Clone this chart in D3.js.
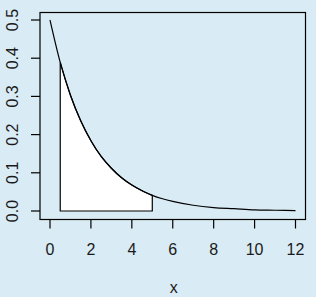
<!DOCTYPE html>
<html>
<head>
<meta charset="utf-8">
<script src="https://cdn.jsdelivr.net/npm/d3@7"></script>
<style>
  body { margin: 0; background: #d9ebf5; }
  svg { display: block; }
</style>
</head>
<body>
<div id="container"></div>
<script>
// values
const xs = [0, 0.5, 1, 1.5, 2, 2.5, 3, 3.5, 4, 4.5, 5, 5.5, 6, 7, 8, 9, 10, 11, 12];
const ys = [0.5, 0.389, 0.303, 0.236, 0.184, 0.143, 0.112, 0.087, 0.068, 0.053, 0.041, 0.032, 0.025, 0.015, 0.009, 0.006, 0.003, 0.002, 0.001];
const xTicks = [0, 2, 4, 6, 8, 10, 12];
const yTicks = [0, 0.1, 0.2, 0.3, 0.4, 0.5];
const shadeFrom = 0.5, shadeTo = 5;

const width = 316, height = 297;
const box = {left: 40, right: 305.5, top: 12.5, bottom: 219.5};

const x = d3.scaleLinear().domain([0, 12]).range([50, 295.5]);
const y = d3.scaleLinear().domain([0, 0.5]).range([211, 20]);

const pts = xs.map((d, i) => ({x: d, y: ys[i]}));

const svg = d3.select("#container").append("svg")
  .attr("width", width)
  .attr("height", height)
  .style("font-family", "'Liberation Sans', Arial, sans-serif");

svg.append("rect")
  .attr("width", width).attr("height", height)
  .attr("fill", "#d9ebf5");

const line = d3.line()
  .x(d => x(d.x))
  .y(d => y(d.y))
  .curve(d3.curveMonotoneX);

// shaded area between shadeFrom and shadeTo
const shade = pts.filter(d => d.x >= shadeFrom && d.x <= shadeTo);
const area = d3.area()
  .x(d => x(d.x))
  .y0(y(0))
  .y1(d => y(d.y))
  .curve(d3.curveMonotoneX);

svg.append("path")
  .datum(shade)
  .attr("d", area)
  .attr("fill", "white")
  .attr("stroke", "black")
  .attr("stroke-width", 1.2);

svg.append("path")
  .datum(pts)
  .attr("d", line)
  .attr("fill", "none")
  .attr("stroke", "black")
  .attr("stroke-width", 1.2);

// plot box
svg.append("rect")
  .attr("x", box.left).attr("y", box.top)
  .attr("width", box.right - box.left)
  .attr("height", box.bottom - box.top)
  .attr("fill", "none")
  .attr("stroke", "black")
  .attr("stroke-width", 1.2);

// x axis
const xg = svg.append("g");
xg.selectAll("line").data(xTicks).join("line")
  .attr("x1", d => x(d)).attr("x2", d => x(d))
  .attr("y1", box.bottom).attr("y2", box.bottom + 9)
  .attr("stroke", "black").attr("stroke-width", 1.2);
xg.selectAll("text").data(xTicks).join("text")
  .attr("x", d => x(d))
  .attr("y", 254.5)
  .attr("text-anchor", "middle")
  .attr("font-size", 16)
  .attr("fill", "#1a1a1a")
  .text(d => d);

svg.append("text")
  .attr("x", (box.left + box.right) / 2 + 1)
  .attr("y", 293)
  .attr("text-anchor", "middle")
  .attr("font-size", 16)
  .attr("fill", "#1a1a1a")
  .text("x");

// y axis
const yg = svg.append("g");
yg.selectAll("line").data(yTicks).join("line")
  .attr("x1", box.left).attr("x2", box.left - 9)
  .attr("y1", d => y(d)).attr("y2", d => y(d))
  .attr("stroke", "black").attr("stroke-width", 1.2);
yg.selectAll("text").data(yTicks).join("text")
  .attr("transform", d => `translate(18,${y(d)}) rotate(-90)`)
  .attr("text-anchor", "middle")
  .attr("font-size", 16)
  .attr("fill", "#1a1a1a")
  .text(d => d.toFixed(1));
</script>
</body>
</html>
